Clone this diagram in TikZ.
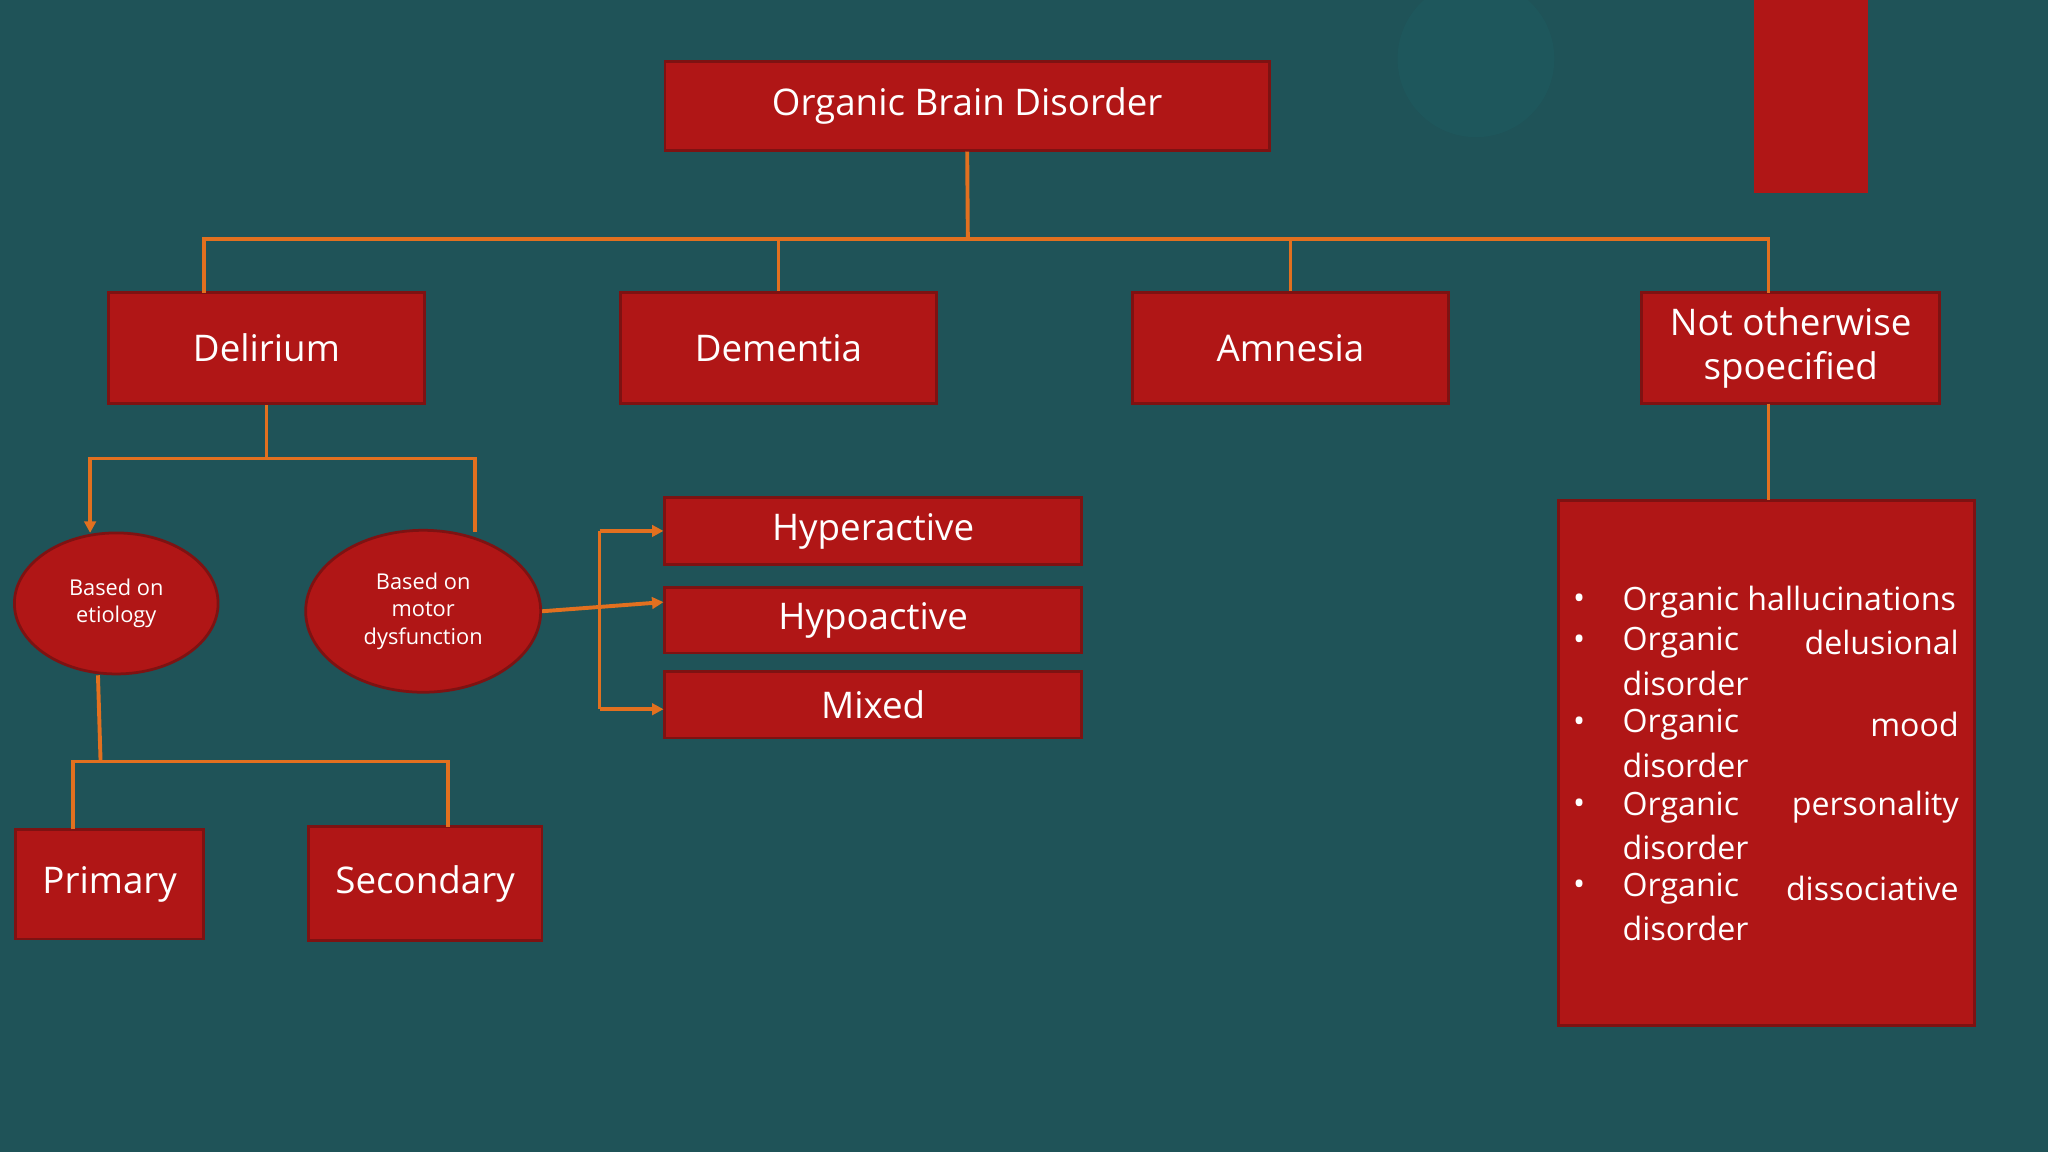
\documentclass[tikz,border=0pt]{standalone}
\usepackage{fontspec}
\setmainfont{Open Sans}
\usetikzlibrary{arrows.meta,shapes.geometric}
\definecolor{bg}{HTML}{1F5358}
\definecolor{boxred}{HTML}{B01616}
\definecolor{boxline}{HTML}{7E1212}
\definecolor{conn}{HTML}{E2701F}
\tikzset{
 box/.style={draw=boxline,line width=1.2pt,fill=boxred,text=white,font=\fontsize{16}{19}\selectfont,align=center,inner sep=0pt},
 ell/.style={ellipse,draw=boxline,line width=1.2pt,fill=boxred,text=white,font=\fontsize{9.5}{12}\selectfont,align=center,inner sep=0pt},
 cn/.style={draw=conn,line width=1.7pt},
 arr/.style={cn,-{Triangle[length=5pt,width=5pt]}},
 li/.style={text=white,font=\fontsize{14}{16}\selectfont,inner sep=0pt}
}
\begin{document}
\begin{tikzpicture}[x=0.02cm,y=-0.02cm]
\fill[bg] (0,0) rectangle (1568,882);
\useasboundingbox (0,0) rectangle (1568,882);
\fill[bg!80!cyan,opacity=0.12] (1130,45) circle (60);
\fill[boxred] (1343,0) rectangle (1430,148);
\node[box,minimum width=9.26cm,minimum height=1.36cm] (top) at (740.5,81) {Organic Brain Disorder};
\node[box,minimum width=4.84cm,minimum height=1.7cm] (del) at (204,266.5) {Delirium};
\node[box,minimum width=4.84cm,minimum height=1.7cm] (dem) at (596,266.5) {Dementia};
\node[box,minimum width=4.84cm,minimum height=1.7cm] (amn) at (988,266.5) {Amnesia};
\node[box,minimum width=4.56cm,minimum height=1.7cm] (nos) at (1371,266.5) {Not otherwise\\spoecified};
\node[ell,minimum width=3.12cm,minimum height=2.16cm] (e1) at (89,462) {Based on\\etiology};
\node[ell,minimum width=3.6cm,minimum height=2.48cm] (e2) at (324,468) {Based on\\motor\\dysfunction};
\node[box,minimum width=6.38cm,minimum height=1.02cm] (hyper) at (668.5,406.5) {Hyperactive};
\node[box,minimum width=6.38cm,minimum height=1.0cm] (hypo) at (668.5,475) {Hypoactive};
\node[box,minimum width=6.38cm,minimum height=1.02cm] (mixed) at (668.5,539.5) {Mixed};
\node[box,minimum width=2.88cm,minimum height=1.68cm] (prim) at (84,677) {Primary};
\node[box,minimum width=3.58cm,minimum height=1.74cm] (sec) at (325.5,676.5) {Secondary};
\node[box,minimum width=6.38cm,minimum height=8.04cm] (big) at (1352.5,584) {};
% connectors
\coordinate (j0) at (741,183);
\draw[cn] (top.south) -- (j0);
\draw[cn] (156,224) -- (156,183) -- (1354,183) -- (1354,224);
\draw[cn] (596,183) -- (dem.north);
\draw[cn] (988,183) -- (amn.north);
\draw[cn] (1354,309) -- (1354,383);
\draw[cn] (del.south) -- (204,351);
\draw[arr] (364,407) -- (364,351) -- (69,351) -- (69,408);
\draw[arr] (e2.east) -- (508,461);
\draw[cn] (459,406.5) -- (459,543);
\draw[arr] (459,406.5) -- (hyper.west);
\draw[arr] (459,543) -- (508,543);
\draw[cn] (75,517) -- (77,583);
\draw[cn] (56,635) -- (56,583) -- (343,583) -- (343,633);
% list
\foreach \y in {461,492,555,618,680} \node[li] at (1209,\y) {•};
\node[li,anchor=west] at (1242,461) {Organic hallucinations};
\node[li,anchor=west] at (1242,492) {Organic};
\node[li,anchor=east] at (1500,492) {delusional};
\node[li,anchor=west] at (1242,523) {disorder};
\node[li,anchor=west] at (1242,555) {Organic};
\node[li,anchor=east] at (1500,555) {mood};
\node[li,anchor=west] at (1242,586) {disorder};
\node[li,anchor=west] at (1242,618) {Organic};
\node[li,anchor=east] at (1500,618) {personality};
\node[li,anchor=west] at (1242,649) {disorder};
\node[li,anchor=west] at (1242,680) {Organic};
\node[li,anchor=east] at (1500,680) {dissociative};
\node[li,anchor=west] at (1242,711) {disorder};
\end{tikzpicture}
\end{document}
